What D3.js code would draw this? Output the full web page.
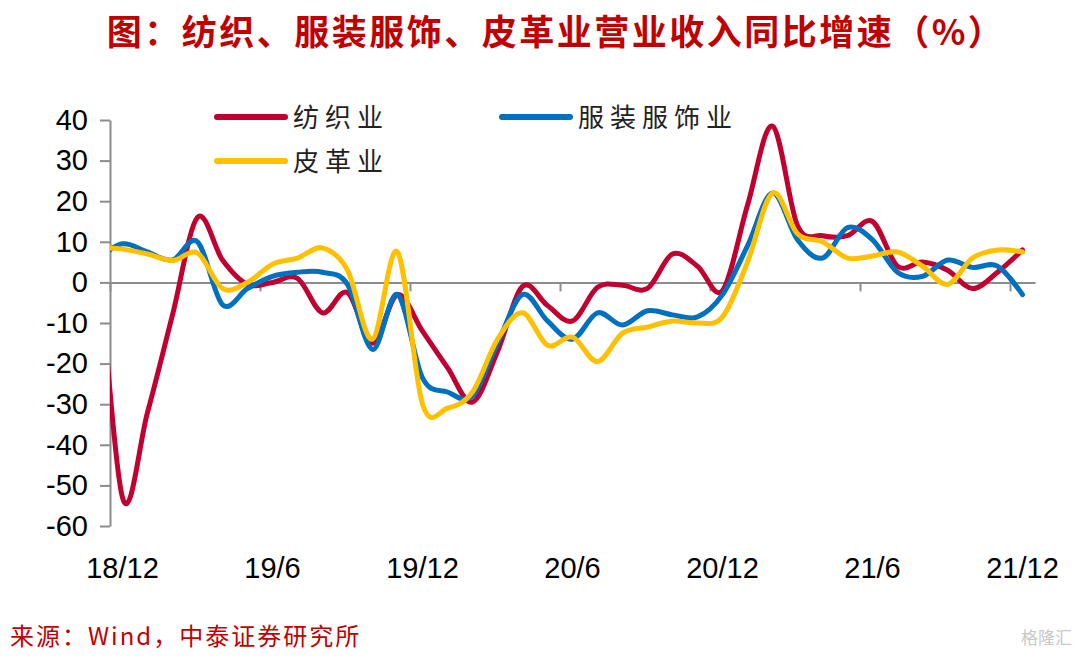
<!DOCTYPE html>
<html>
<head>
<meta charset="utf-8">
<script src="https://cdn.jsdelivr.net/npm/d3@7"></script>
<style>
  html, body { margin: 0; padding: 0; background: #fff; }
  svg { display: block; }
</style>
</head>
<body>
<svg id="chart"></svg>
<script>
// months: first entry (18/11) sits left of the plot and is clipped away
const months = [
  '18/11', '18/12',
  '19/1', '19/2', '19/3', '19/4', '19/5', '19/6', '19/7', '19/8', '19/9', '19/10', '19/11', '19/12',
  '20/1', '20/2', '20/3', '20/4', '20/5', '20/6', '20/7', '20/8', '20/9', '20/10', '20/11', '20/12',
  '21/1', '21/2', '21/3', '21/4', '21/5', '21/6', '21/7', '21/8', '21/9', '21/10', '21/11', '21/12'
];
const xLabels = ['18/12', '19/6', '19/12', '20/6', '20/12', '21/6', '21/12'];
const yTicks = [40, 30, 20, 10, 0, -10, -20, -30, -40, -50, -60];

// 纺织业
const textile = [
  11.6, -53, -32, -8, 16, 5.5, -0.5, 0, 1, -7.5, -2.5, -15, -3,
  -12, -21, -29.5, -17, -1, -5.7, -9.5, -1.2, -0.7, -1.5, 7, 4,
  -2, 19, 38.5, 14, 11.5, 11.5, 15, 4, 5, 3, -1.5, 2.5, 8
];
// 服装服饰业
const apparel = [
  5.8, 9.5, 7.5, 5.5, 10, -5.5, -1.5, 1.5, 2.5, 2.5, -0.5, -16.5, -3,
  -23.5, -27, -28, -15, -3, -9.5, -14, -7.5, -10.5, -7, -8, -8.5,
  -3, 9, 22, 10.5, 6, 13.5, 10.5, 2.5, 1.5, 5.5, 3.7, 4, -3
];
// 皮革业
const leather = [
  8.65, 8.2, 7, 5.4, 7.2, -1.5, 0, 4.5, 6, 8.5, 3, -14, 7.5,
  -30, -31, -27, -14, -7.5, -15.5, -13.5, -19.5, -12.5, -11, -9.5, -10,
  -8.5, 5, 22, 12, 10, 6, 6.5, 7.5, 4, -0.5, 6, 8, 7.5
];

const series = [
  { name: '纺织业', values: textile, color: '#C00030' },
  { name: '服装服饰业', values: apparel, color: '#0070C0' },
  { name: '皮革业', values: leather, color: '#FFC000' }
];

const width = 1080;
const height = 657;
const plot = { left: 110, right: 1035, top: 120, bottom: 526 };
const axisColor = '#8c8c8c';
const tickFont = '"Liberation Sans", Arial, sans-serif';
const cjkFont = '"Noto Sans CJK SC", sans-serif';

const svg = d3
  .select('#chart')
  .attr('width', width)
  .attr('height', height);

// index 1 (18/12) is the first visible month; each month is one band
const x = d3
  .scaleLinear()
  .domain([0.5, months.length - 0.5])
  .range([plot.left, plot.right]);

const y = d3
  .scaleLinear()
  .domain([-60, 40])
  .range([plot.bottom, plot.top]);

// title
svg
  .append('text')
  .attr('x', 556)
  .attr('y', 45)
  .attr('text-anchor', 'middle')
  .style('font-family', cjkFont)
  .style('font-weight', 700)
  .style('font-size', '35px')
  .style('letter-spacing', '2.5px')
  .style('fill', '#C00000')
  .text('图：纺织、服装服饰、皮革业营业收入同比增速（%）');

// y axis
const yAxis = svg
  .append('g')
  .attr('transform', `translate(${plot.left}, 0)`)
  .call(
    d3
      .axisLeft(y)
      .tickValues(yTicks)
      .tickSize(10)
      .tickSizeOuter(0)
      .tickPadding(12)
      .tickFormat(d => String(d))
  );
yAxis.select('.domain').attr('stroke', axisColor).attr('stroke-width', 2);
yAxis.selectAll('.tick line').attr('stroke', axisColor).attr('stroke-width', 2);
yAxis
  .selectAll('.tick text')
  .style('font-family', tickFont)
  .style('font-size', '29px')
  .style('fill', '#000');

// x axis along zero line, ticks between every six months
const xTickValues = d3.range(0.5, months.length, 6);
const xAxis = svg
  .append('g')
  .attr('transform', `translate(0, ${y(0)})`)
  .call(d3.axisBottom(x).tickValues(xTickValues).tickSize(9).tickSizeOuter(0).tickFormat(''));
xAxis.select('.domain').attr('stroke', axisColor).attr('stroke-width', 2);
xAxis.selectAll('.tick line').attr('stroke', axisColor).attr('stroke-width', 2);

svg
  .append('g')
  .selectAll('text')
  .data(xLabels)
  .join('text')
  .attr('x', d => x(months.indexOf(d)))
  .attr('y', 578)
  .attr('text-anchor', 'middle')
  .style('font-family', tickFont)
  .style('font-size', '29px')
  .style('fill', '#000')
  .text(d => d);

// lines
svg
  .append('clipPath')
  .attr('id', 'plotClip')
  .append('rect')
  .attr('x', plot.left)
  .attr('y', 0)
  .attr('width', plot.right - plot.left)
  .attr('height', height);

const lineFunc = d3
  .line()
  .x((d, i) => x(i))
  .y(d => y(d))
  .curve(d3.curveCatmullRom.alpha(0));

svg
  .append('g')
  .attr('clip-path', 'url(#plotClip)')
  .selectAll('path')
  .data(series)
  .join('path')
  .attr('fill', 'none')
  .attr('stroke', d => d.color)
  .attr('stroke-width', 5)
  .attr('stroke-linejoin', 'round')
  .attr('stroke-linecap', 'round')
  .attr('d', d => lineFunc(d.values));

// legend
const legendPos = [
  { x: 217, y: 117 },
  { x: 502, y: 117 },
  { x: 217, y: 161 }
];
const legend = svg
  .append('g')
  .selectAll('g')
  .data(series)
  .join('g')
  .attr('transform', (d, i) => `translate(${legendPos[i].x}, ${legendPos[i].y})`);
legend
  .append('line')
  .attr('x1', 0)
  .attr('x2', 68)
  .attr('stroke', d => d.color)
  .attr('stroke-width', 6)
  .attr('stroke-linecap', 'round');
legend
  .append('text')
  .attr('x', 76)
  .attr('y', 10)
  .style('font-family', cjkFont)
  .style('font-size', '26px')
  .style('letter-spacing', '6px')
  .style('fill', '#222')
  .text(d => d.name);

// source
svg
  .append('text')
  .attr('x', 10)
  .attr('y', 645)
  .style('font-family', cjkFont)
  .style('font-size', '24px')
  .style('letter-spacing', '2px')
  .style('fill', '#C00000')
  .text('来源：Wind，中泰证券研究所');

svg
  .append('text')
  .attr('x', 1072)
  .attr('y', 644)
  .attr('text-anchor', 'end')
  .style('font-family', cjkFont)
  .style('font-size', '17px')
  .style('fill', '#c8c8c8')
  .text('格隆汇');
</script>
</body>
</html>
